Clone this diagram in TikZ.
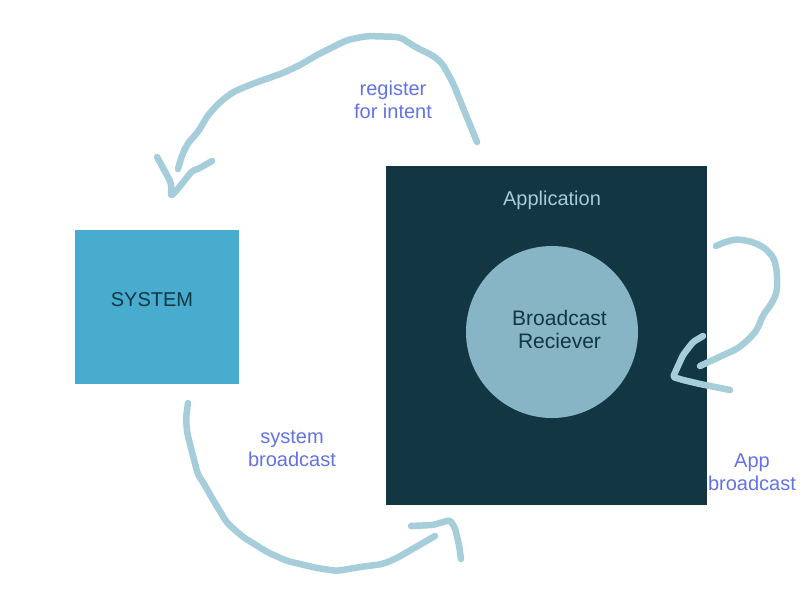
\documentclass[tikz,border=0pt]{standalone}
\usepackage{fontspec}
\setmainfont{Liberation Sans}
\definecolor{appdark}{HTML}{123642}
\definecolor{sysblue}{HTML}{48ACCE}
\definecolor{recvblue}{HTML}{87B5C6}
\definecolor{strokeblue}{HTML}{A6CDDA}
\definecolor{labelblue}{HTML}{6272E4}
\tikzset{
	block/.style={draw=none, inner sep=0pt, outer sep=0pt, align=center},
	lbl/.style={inner sep=0pt, align=center, text=labelblue},
	sketch/.style={draw=strokeblue, line width=6.5pt, line cap=round, line join=round, rounded corners=5pt},
}

\begin{document}
\begin{tikzpicture}[x=1pt, y=-1pt, every node/.style={font=\fontsize{20}{23}\selectfont}]
	\useasboundingbox (0, 0) rectangle (800, 600);
	% Boxes and labels:
	\node[block, fill=sysblue, minimum width=164pt, minimum height=154pt] (System) at (157, 307) {};
	\node[inner sep=0pt, text=appdark] (SystemText) at (152, 300) {SYSTEM};
	\node[block, fill=appdark, minimum width=321pt, minimum height=339pt] (App) at (546.5, 335.5) {};
	\node[inner sep=0pt, text=strokeblue] (AppText) at (552, 200) {Application};
	\node[block, circle, fill=recvblue, minimum size=172pt] (Recv) at (552, 332) {};
	\node[inner sep=0pt, align=center, text=appdark, font=\fontsize{21}{23}\selectfont] (RecvText) at (559.5, 329.5) {Broadcast\\Reciever};
	\node[lbl] (Register) at (393, 100) {register\\for intent};
	\node[lbl] (SysCast) at (292, 449) {system\\broadcast};
	\node[lbl] (AppCast) at (752, 472) {App\\broadcast};
	% Free ends of the strokes:
	\coordinate (RegA) at (477, 142);
	\coordinate (RegB) at (178, 169);
	\coordinate (RegL) at (157, 157);
	\coordinate (RegR) at (212, 161);
	\coordinate (LoopA) at (716, 246);
	\coordinate (LoopB) at (700, 366);
	\coordinate (LoopL) at (703, 336);
	\coordinate (LoopR) at (730, 390);
	\coordinate (CastA) at (188, 403);
	\coordinate (CastB) at (435, 536);
	\coordinate (CastL) at (411, 526);
	\coordinate (CastR) at (461, 559);
	% register for intent
	\draw[sketch] (RegA) -- (468, 120) -- (453, 83) -- (442, 63) -- (432, 55) -- (417, 48) -- (400, 37)
		-- (367, 36) -- (347, 40) -- (317, 55) -- (300, 65) -- (283, 73) -- (252, 84) -- (233, 92)
		-- (220, 102) -- (208, 115) -- (198, 132) -- (188, 143) -- (182, 155) -- (RegB);
	\draw[sketch, rounded corners=2pt] (RegL) -- (168, 177) -- (171, 183) -- (171, 196) -- (177, 190) -- (192, 171)
		-- (198, 169) -- (RegR);
	% app broadcast
	\draw[sketch] (LoopA) -- (725, 242) -- (737, 239) -- (753, 242) -- (765, 248) -- (774, 258)
		-- (777, 272) -- (777, 292) -- (772, 303) -- (763, 315) -- (757, 330) -- (748, 340)
		-- (737, 349) -- (730, 352) -- (LoopB);
	\draw[sketch, rounded corners=2pt] (LoopL) -- (693, 342) -- (683, 355) -- (673, 377) -- (683, 380) -- (700, 384) -- (LoopR);
	% system broadcast
	\draw[sketch] (CastA) -- (186, 418) -- (187, 432) -- (192, 452) -- (198, 475) -- (203, 482)
		-- (212, 498) -- (227, 523) -- (243, 537) -- (267, 552) -- (287, 561) -- (317, 568)
		-- (337, 571) -- (360, 567) -- (383, 564) -- (397, 558) -- (CastB);
	\draw[sketch, rounded corners=2pt] (CastL) -- (433, 525) -- (450, 520) -- (455, 528) -- (459, 545) -- (CastR);
\end{tikzpicture}
\end{document}
